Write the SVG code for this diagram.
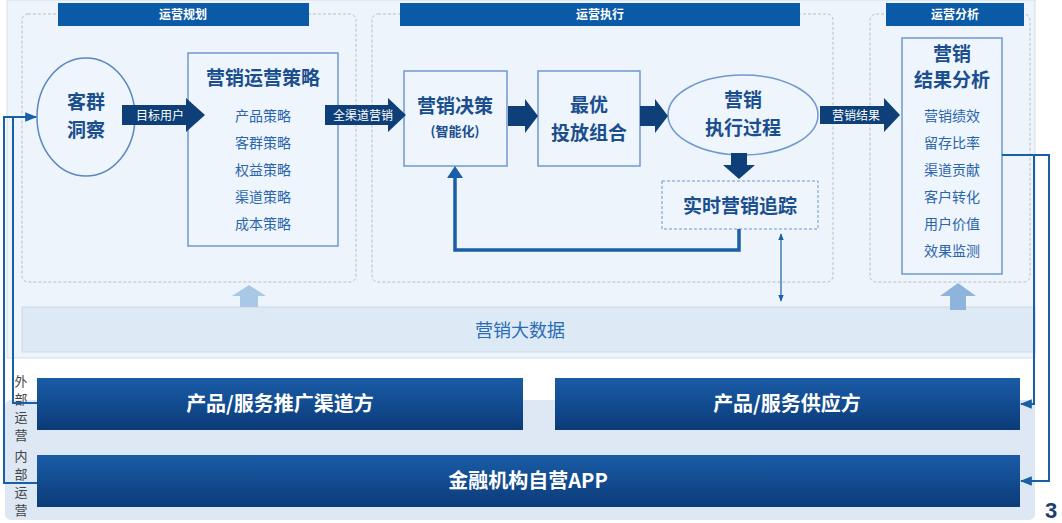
<svg xmlns="http://www.w3.org/2000/svg" width="1062" height="523" viewBox="0 0 1062 523">
<defs>
<linearGradient id="bar" x1="0" y1="0" x2="0" y2="1"><stop offset="0" stop-color="#1a5ca8"/><stop offset="1" stop-color="#0b3b78"/></linearGradient>
<marker id="ah" viewBox="0 0 10 10" refX="9" refY="5" markerWidth="6" markerHeight="6" orient="auto-start-reverse"><path d="M0,1 L10,5 L0,9 z" fill="#1b5ea8"/></marker>
<style>
text{font-family:"Noto Sans CJK SC","Liberation Sans",sans-serif;text-anchor:middle}
.hd{fill:#0a5aa8}.hdt{fill:#fff;font-size:12px;font-weight:bold}
.frame{fill:none;stroke:#b9bec6;stroke-dasharray:3 2;stroke-width:1}
.box{fill:#eef5fc;stroke:#6f98cf;stroke-width:1.5}
.t{fill:#1b4e8e;font-weight:bold}
.it{fill:#2a64ad;font-size:14px}
.ar{fill:#0e3f78}
.al{fill:#fff;font-size:12px}
.ln{fill:none;stroke:#1b5ea8;stroke-width:2}
.bb{fill:url(#bar)}
.bt{fill:#fff;font-size:20px;font-weight:bold}
.side{fill:#444;font-size:13px}
</style>
</defs>
<rect width="1062" height="523" fill="#fff"/>
<rect x="7" y="0" width="1028" height="358" fill="#eef4fb" stroke="#d6dde6"/>
<rect x="5" y="400" width="1030" height="120" rx="6" fill="#dde8f4"/>
<rect x="22" y="307" width="1013" height="45" fill="#dde9f5" stroke="#cdd8e4"/>
<text x="520" y="337" style="fill:#2a6db5;font-size:18px">营销大数据</text>
<g id="frames">
<rect class="frame" x="22" y="14" width="334" height="268" rx="6"/>
<rect class="frame" x="372" y="14" width="461" height="268" rx="6"/>
<rect class="frame" x="870" y="14" width="160" height="268" rx="6"/>
<rect class="hd" x="58" y="3" width="251" height="23"/><text class="hdt" x="183" y="19">运营规划</text>
<rect class="hd" x="400" y="3" width="400" height="23"/><text class="hdt" x="600" y="19">运营执行</text>
<rect class="hd" x="886" y="3" width="138" height="23"/><text class="hdt" x="955" y="19">运营分析</text>
</g>
<g id="n-insight"><ellipse cx="86" cy="117" rx="49" ry="59" fill="#eef5fc" stroke="#5b86c0" stroke-width="1.5"/>
<text class="t" x="86" y="109" font-size="19">客群</text><text class="t" x="86" y="137" font-size="19">洞察</text></g>
<g id="n-strategy"><rect class="box" x="188" y="53" width="150" height="193"/>
<text class="t" x="263" y="85" font-size="19">营销运营策略</text>
<text class="it" x="263" y="121">产品策略</text><text class="it" x="263" y="148">客群策略</text><text class="it" x="263" y="175">权益策略</text><text class="it" x="263" y="202">渠道策略</text><text class="it" x="263" y="229">成本策略</text></g>
<g id="n-decision"><rect class="box" x="404" y="71" width="103" height="95"/>
<text class="t" x="455" y="113" font-size="19">营销决策</text><text class="t" x="455" y="136" font-size="13">(智能化)</text></g>
<g id="n-combo"><rect class="box" x="538" y="71" width="102" height="95"/>
<text class="t" x="589" y="112" font-size="19">最优</text><text class="t" x="589" y="140" font-size="19">投放组合</text></g>
<g id="n-exec"><ellipse cx="743" cy="115" rx="75" ry="40" fill="#eef5fc" stroke="#6f98cf" stroke-width="1.5"/>
<text class="t" x="743" y="107" font-size="19">营销</text><text class="t" x="743" y="135" font-size="19">执行过程</text></g>
<g id="n-track"><rect x="662" y="181" width="156" height="48" fill="#eef5fc" stroke="#6f98cf" stroke-dasharray="3 2"/>
<text class="t" x="740" y="213" font-size="19">实时营销追踪</text></g>
<g id="n-result"><rect class="box" x="902" y="38" width="100" height="236"/>
<text class="t" x="952" y="61" font-size="19">营销</text><text class="t" x="952" y="87" font-size="19">结果分析</text>
<text class="it" x="952" y="121">营销绩效</text><text class="it" x="952" y="148">留存比率</text><text class="it" x="952" y="175">渠道贡献</text><text class="it" x="952" y="202">客户转化</text><text class="it" x="952" y="229">用户价值</text><text class="it" x="952" y="256">效果监测</text></g>
<g id="n-channel"><rect class="bb" x="37" y="378" width="486" height="52"/><text class="bt" x="280" y="411">产品/服务推广渠道方</text></g>
<g id="n-supply"><rect class="bb" x="555" y="378" width="465" height="52"/><text class="bt" x="787" y="411">产品/服务供应方</text></g>
<g id="n-app"><rect class="bb" x="37" y="455" width="983" height="52"/><text class="bt" x="528" y="488">金融机构自营APP</text></g>
<g id="side">
<text class="side" x="21" y="386">外</text><text class="side" x="21" y="404">部</text><text class="side" x="21" y="422">运</text><text class="side" x="21" y="440">营</text>
<text class="side" x="21" y="461">内</text><text class="side" x="21" y="479">部</text><text class="side" x="21" y="497">运</text><text class="side" x="21" y="515">营</text>
</g>
<g id="connectors">
<path class="ar" d="M122,105 H186 V98 L205,115 L186,132 V125 H122 z"/><text class="al" x="160" y="120">目标用户</text>
<path class="ar" d="M325,105 H388 V98 L406,115 L388,132 V125 H325 z"/><text class="al" x="363" y="120">全渠道营销</text>
<path class="ar" d="M508,106 H525 V99 L538,116 L525,133 V126 H508 z"/>
<path class="ar" d="M640,106 H655 V99 L668,116 L655,133 V126 H640 z"/>
<path class="ar" d="M820,106 H884 V98 L900,115 L884,132 V124 H820 z"/><text class="al" x="856" y="120">营销结果</text>
<path class="ar" d="M731,153 H747 V165 H755 L739,179 L723,165 H731 z"/>
<path d="M739,229 V250 H455 V172" fill="none" stroke="#1b5ea8" stroke-width="3.5"/>
<path d="M447,178 L455,166 L463,178 z" fill="#1b5ea8"/>
<path d="M781,234 V301" fill="none" stroke="#1b5ea8" stroke-width="1.2" marker-start="url(#ah)" marker-end="url(#ah)"/>
<path d="M240,307 V296 H232 L249,285 L266,296 H258 V307 z" fill="#a9c7e6"/>
<path d="M950,310 V296 H940 L958,283 L976,296 H966 V310 z" fill="#8fb4dc"/>
<path class="ln" d="M37,483 H4 V117 H36" marker-end="url(#ah)"/>
<path class="ln" d="M37,403 H13 V117"/>
<path class="ln" d="M1002,155 H1049 V481 H1021" marker-end="url(#ah)"/>
<path class="ln" d="M1034,155 V404 H1021" marker-end="url(#ah)"/>
</g>
<text x="1051" y="518" style="fill:#1a3f6e;font-size:22px;font-weight:bold;font-family:'Liberation Sans',sans-serif">3</text>
</svg>
